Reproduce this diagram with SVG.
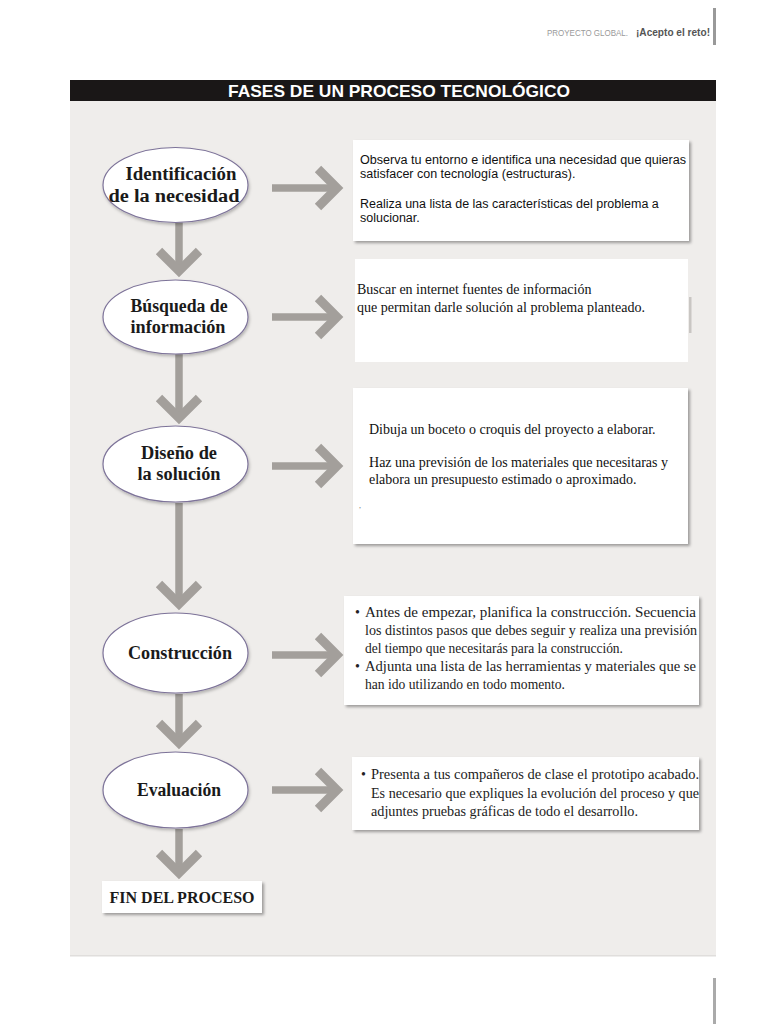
<svg xmlns="http://www.w3.org/2000/svg" width="768" height="1024" viewBox="0 0 768 1024">
<defs>
<filter id="sh" x="-10%" y="-10%" width="125%" height="130%">
<feDropShadow dx="2" dy="2" stdDeviation="1.8" flood-color="#000" flood-opacity="0.35"/>
</filter>
<filter id="esh" x="-10%" y="-10%" width="125%" height="130%">
<feDropShadow dx="1" dy="2" stdDeviation="1.5" flood-color="#000" flood-opacity="0.25"/>
</filter>
</defs>
<style>
.ell{fill:#fff;stroke:#7d7399;stroke-width:1.2}
.et{font-family:"Liberation Serif","DejaVu Serif",serif;font-weight:bold;font-size:18.5px;fill:#1a1a1a;text-anchor:middle}
.box{fill:#fff}
.sans{font-family:"Liberation Sans",Arial,sans-serif;font-size:12.5px;fill:#111}
.ser{font-family:"Liberation Serif","Times New Roman",serif;font-size:14px;fill:#111}
.ser2{font-family:"Liberation Serif","DejaVu Serif",serif;font-size:14px;fill:#222}
.arr{fill:none;stroke:#a39f9b;stroke-width:7.5}
.chev{fill:none;stroke:#a39f9b;stroke-width:9}
</style>
<rect width="768" height="1024" fill="#fff"/>
<g id="header">
<text x="547" y="36" font-family="Liberation Sans,Arial,sans-serif" font-size="9" fill="#9a9a9a" textLength="81" lengthAdjust="spacingAndGlyphs">PROYECTO GLOBAL.</text>
<text x="636" y="36" font-family="Liberation Sans,Arial,sans-serif" font-size="10.5" font-weight="bold" fill="#555" textLength="74" lengthAdjust="spacingAndGlyphs">¡Acepto el reto!</text>
<rect x="713" y="8" width="3" height="37" fill="#999"/>
<rect x="713" y="978" width="3" height="46" fill="#aaa"/>
</g>
<rect x="70" y="80" width="646" height="875" fill="#efedeb"/>
<rect x="70" y="955" width="646" height="1.5" fill="#e0dedc"/>
<g id="title">
<rect x="70" y="80" width="646" height="21" fill="#1a1717"/>
<text x="399" y="97" font-family="Liberation Sans,Arial,sans-serif" font-size="17" font-weight="bold" fill="#fff" text-anchor="middle" textLength="342" lengthAdjust="spacingAndGlyphs">FASES DE UN PROCESO TECNOLÓGICO</text>
</g>
<g id="connectors">
<path class="arr" d="M179 222V266"/><path class="chev" d="M159 251L179 271L199 251"/>
<path class="arr" d="M179 354V412"/><path class="chev" d="M159 398L179 418L199 398"/>
<path class="arr" d="M179 503V598"/><path class="chev" d="M159 584L179 604L199 584"/>
<path class="arr" d="M179 694V738"/><path class="chev" d="M159 723L179 743L199 723"/>
<path class="arr" d="M179 829V868"/><path class="chev" d="M159 853L179 873L199 853"/>
<path class="arr" d="M272 188H332"/><path class="chev" d="M318 169L337 188L318 207"/>
<path class="arr" d="M272 317H332"/><path class="chev" d="M318 298L337 317L318 336"/>
<path class="arr" d="M272 466H332"/><path class="chev" d="M318 447L337 466L318 485"/>
<path class="arr" d="M272 655H332"/><path class="chev" d="M318 636L337 655L318 674"/>
<path class="arr" d="M272 790H332"/><path class="chev" d="M318 771L337 790L318 809"/>
</g>
<g id="n1">
<ellipse class="ell" cx="175.5" cy="185" rx="72.5" ry="37.5" filter="url(#esh)"/>
<text class="et" x="181" y="180" textLength="111" lengthAdjust="spacingAndGlyphs">Identificación</text>
<text class="et" x="174" y="202" textLength="131" lengthAdjust="spacingAndGlyphs">de la necesidad</text>
</g>
<g id="n2">
<ellipse class="ell" cx="175.5" cy="317" rx="72.5" ry="37" filter="url(#esh)"/>
<text class="et" x="179" y="312" textLength="97" lengthAdjust="spacingAndGlyphs">Búsqueda de</text>
<text class="et" x="178" y="333" textLength="95" lengthAdjust="spacingAndGlyphs">información</text>
</g>
<g id="n3">
<ellipse class="ell" cx="175.5" cy="464" rx="72.5" ry="38" filter="url(#esh)"/>
<text class="et" x="179" y="459" textLength="76" lengthAdjust="spacingAndGlyphs">Diseño de</text>
<text class="et" x="179" y="480" textLength="83" lengthAdjust="spacingAndGlyphs">la solución</text>
</g>
<g id="n4">
<ellipse class="ell" cx="175.5" cy="653" rx="72.5" ry="40" filter="url(#esh)"/>
<text class="et" x="180" y="659" textLength="104" lengthAdjust="spacingAndGlyphs">Construcción</text>
</g>
<g id="n5">
<ellipse class="ell" cx="175.5" cy="790" rx="72.5" ry="38" filter="url(#esh)"/>
<text class="et" x="179" y="796" textLength="84" lengthAdjust="spacingAndGlyphs">Evaluación</text>
</g>
<g id="fin">
<rect class="box" x="102" y="881" width="160" height="32" filter="url(#sh)"/>
<text x="182" y="903" font-family="Liberation Serif,DejaVu Serif,serif" font-weight="bold" font-size="16" fill="#1a1a1a" text-anchor="middle" textLength="145" lengthAdjust="spacingAndGlyphs">FIN DEL PROCESO</text>
</g>
<g id="b1">
<rect class="box" x="353" y="140" width="336" height="101" filter="url(#sh)"/>
<text class="sans" x="360" y="164" textLength="326" lengthAdjust="spacingAndGlyphs">Observa tu entorno e identifica una necesidad que quieras</text>
<text class="sans" x="360" y="178">satisfacer con tecnología (estructuras).</text>
<text class="sans" x="360" y="208">Realiza una lista de las características del problema a</text>
<text class="sans" x="360" y="222">solucionar.</text>
</g>
<g id="b2">
<rect x="689" y="297" width="2.5" height="36" fill="#c9c6c3"/>
<rect class="box" x="355" y="259" width="333" height="103"/>
<text class="ser" x="357" y="294">Buscar en internet fuentes de información</text>
<text class="ser" x="357" y="312" textLength="288" lengthAdjust="spacingAndGlyphs">que permitan darle solución al problema planteado.</text>
</g>
<g id="b3">
<rect class="box" x="353" y="388" width="335" height="156" filter="url(#sh)"/>
<text class="ser" x="369" y="434">Dibuja un boceto o croquis del proyecto a elaborar.</text>
<text class="ser" x="369" y="467" textLength="299" lengthAdjust="spacingAndGlyphs">Haz una previsión de los materiales que necesitaras y</text>
<text class="ser" x="369" y="484">elabora un presupuesto estimado o aproximado.</text>
<text x="359" y="508" font-family="Liberation Serif,serif" font-size="8" fill="#777">,</text>
</g>
<g id="b4">
<rect class="box" x="344" y="596" width="355" height="109" filter="url(#sh)"/>
<text class="ser2" x="355" y="617">•</text>
<text class="ser2" x="365" y="617" textLength="331" lengthAdjust="spacingAndGlyphs">Antes de empezar, planifica la construcción. Secuencia</text>
<text class="ser2" x="365" y="635" textLength="332" lengthAdjust="spacingAndGlyphs">los distintos pasos que debes seguir y realiza una previsión</text>
<text class="ser2" x="365" y="653" textLength="258" lengthAdjust="spacingAndGlyphs">del tiempo que necesitarás para la construcción.</text>
<text class="ser2" x="355" y="671">•</text>
<text class="ser2" x="365" y="671" textLength="331" lengthAdjust="spacingAndGlyphs">Adjunta una lista de las herramientas y materiales que se</text>
<text class="ser2" x="365" y="689" textLength="200" lengthAdjust="spacingAndGlyphs">han ido utilizando en todo momento.</text>
</g>
<g id="b5">
<rect class="box" x="352" y="757" width="347" height="73" filter="url(#sh)"/>
<text class="ser2" x="361" y="779">•</text>
<text class="ser2" x="371" y="779" textLength="328" lengthAdjust="spacingAndGlyphs">Presenta a tus compañeros de clase el prototipo acabado.</text>
<text class="ser2" x="371" y="798" textLength="328" lengthAdjust="spacingAndGlyphs">Es necesario que expliques la evolución del proceso y que</text>
<text class="ser2" x="371" y="816" textLength="267" lengthAdjust="spacingAndGlyphs">adjuntes pruebas gráficas de todo el desarrollo.</text>
</g>
</svg>
